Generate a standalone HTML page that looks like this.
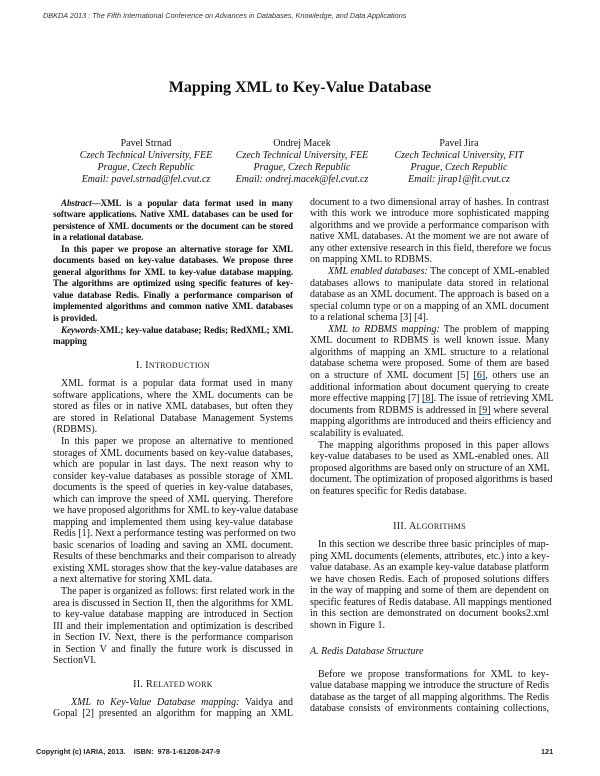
<!DOCTYPE html>
<html><head><meta charset="utf-8"><style>
body{margin:0;width:600px;height:776px;background:#fff;position:relative;overflow:hidden;font-family:"Liberation Serif",serif;color:#111}
.l{position:absolute;font-size:10px;line-height:12px;white-space:nowrap;text-align:justify;text-align-last:justify}
.L{left:53px;width:240px}.R{left:310px;width:239px}
.n{text-align-last:left}
.c{text-align:center;text-align-last:center}
.b{font-weight:bold;font-size:9.1px;letter-spacing:-0.1px}
i{font-style:italic}
.sc{font-size:10px;letter-spacing:.3px}
.a{position:absolute;font-size:10px;line-height:12px;text-align:center;width:180px}
u{text-decoration:underline;text-decoration-color:#39f}
</style></head><body>
<div style="position:absolute;left:43px;top:11px;font-family:'Liberation Sans',sans-serif;font-style:italic;font-size:7.3px;color:#333">DBKDA 2013 : The Fifth International Conference on Advances in Databases, Knowledge, and Data Applications</div>
<div style="position:absolute;left:0;width:600px;top:79px;text-align:center;font-weight:bold;font-size:16px">Mapping XML to Key-Value Database</div>
<div class="a" style="left:56px;top:138px">Pavel Strnad<br><i>Czech Technical University, FEE<br>Prague, Czech Republic<br>Email: pavel.strnad@fel.cvut.cz</i></div>
<div class="a" style="left:212px;top:138px">Ondrej Macek<br><i>Czech Technical University, FEE<br>Prague, Czech Republic<br>Email: ondrej.macek@fel.cvut.cz</i></div>
<div class="a" style="left:369px;top:138px">Pavel Jira<br><i>Czech Technical University, FIT<br>Prague, Czech Republic<br>Email: jirap1@fit.cvut.cz</i></div>

<div class="l L b" style="top:197px;padding-left:8px;width:232px"><i>Abstract</i>—XML is a popular data format used in many</div>
<div class="l L b" style="top:208px">software applications. Native XML databases can be used for</div>
<div class="l L b" style="top:220px">persistence of XML documents or the document can be stored</div>
<div class="l L b n" style="top:231px">in a relational database.</div>
<div class="l L b" style="top:243px;padding-left:8px;width:232px">In this paper we propose an alternative storage for XML</div>
<div class="l L b" style="top:254px">documents based on key-value databases. We propose three</div>
<div class="l L b" style="top:266px">general algorithms for XML to key-value database mapping.</div>
<div class="l L b" style="top:277px">The algorithms are optimized using specific features of key-</div>
<div class="l L b" style="top:289px">value database Redis. Finally a performance comparison of</div>
<div class="l L b" style="top:300px">implemented algorithms and common native XML databases</div>
<div class="l L b n" style="top:312px">is provided.</div>
<div class="l L b" style="top:324px;padding-left:8px;width:232px"><i>Keywords</i>-XML; key-value database; Redis; RedXML; XML</div>
<div class="l L b n" style="top:335px">mapping</div>
<div class="l L c sc" style="top:360px">I. I<span style="font-size:8px">NTRODUCTION</span></div>
<div class="l L" style="top:378px;padding-left:8px;width:232px">XML format is a popular data format used in many</div>
<div class="l L" style="top:390px">software applications, where the XML documents can be</div>
<div class="l L" style="top:401px">stored as files or in native XML databases, but often they</div>
<div class="l L" style="top:413px">are stored in Relational Database Management Systems</div>
<div class="l L n" style="top:424px">(RDBMS).</div>
<div class="l L" style="top:436px;padding-left:8px;width:232px">In this paper we propose an alternative to mentioned</div>
<div class="l L" style="top:448px">storages of XML documents based on key-value databases,</div>
<div class="l L" style="top:459px">which are popular in last days. The next reason why to</div>
<div class="l L" style="top:471px">consider key-value databases as possible storage of XML</div>
<div class="l L" style="top:482px">documents is the speed of queries in key-value databases,</div>
<div class="l L" style="top:494px">which can improve the speed of XML querying. Therefore</div>
<div class="l L" style="top:505px">we have proposed algorithms for XML to key-value database</div>
<div class="l L" style="top:517px">mapping and implemented them using key-value database</div>
<div class="l L" style="top:528px">Redis [1]. Next a performance testing was performed on two</div>
<div class="l L" style="top:540px">basic scenarios of loading and saving an XML document.</div>
<div class="l L" style="top:551px">Results of these benchmarks and their comparison to already</div>
<div class="l L" style="top:563px">existing XML storages show that the key-value databases are</div>
<div class="l L n" style="top:574px">a next alternative for storing XML data.</div>
<div class="l L" style="top:586px;padding-left:8px;width:232px">The paper is organized as follows: first related work in the</div>
<div class="l L" style="top:598px">area is discussed in Section II, then the algorithms for XML</div>
<div class="l L" style="top:609px">to key-value database mapping are introduced in Section</div>
<div class="l L" style="top:621px">III and their implementation and optimization is described</div>
<div class="l L" style="top:632px">in Section IV. Next, there is the performance comparison</div>
<div class="l L" style="top:644px">in Section V and finally the future work is discussed in</div>
<div class="l L n" style="top:655px">SectionVI.</div>
<div class="l L c sc" style="top:679px">II. R<span style="font-size:8px">ELATED WORK</span></div>
<div class="l L" style="top:697px;padding-left:18px;width:222px"><i>XML to Key-Value Database mapping:</i> Vaidya and</div>
<div class="l L" style="top:708px">Gopal [2] presented an algorithm for mapping an XML</div>

<div class="l R" style="top:197px">document to a two dimensional array of hashes. In contrast</div>
<div class="l R" style="top:208px">with this work we introduce more sophisticated mapping</div>
<div class="l R" style="top:220px">algorithms and we provide a performance comparison with</div>
<div class="l R" style="top:231px">native XML databases. At the moment we are not aware of</div>
<div class="l R" style="top:243px">any other extensive research in this field, therefore we focus</div>
<div class="l R n" style="top:254px">on mapping XML to RDBMS.</div>
<div class="l R" style="top:266px;padding-left:18px;width:221px"><i>XML enabled databases:</i> The concept of XML-enabled</div>
<div class="l R" style="top:278px">databases allows to manipulate data stored in relational</div>
<div class="l R" style="top:289px">database as an XML document. The approach is based on a</div>
<div class="l R" style="top:301px">special column type or on a mapping of an XML document</div>
<div class="l R n" style="top:312px">to a relational schema [3] [4].</div>
<div class="l R" style="top:324px;padding-left:18px;width:221px"><i>XML to RDBMS mapping:</i> The problem of mapping</div>
<div class="l R" style="top:335px">XML document to RDBMS is well known issue. Many</div>
<div class="l R" style="top:347px">algorithms of mapping an XML structure to a relational</div>
<div class="l R" style="top:358px">database schema were proposed. Some of them are based</div>
<div class="l R" style="top:370px">on a structure of XML document [5] <u>[6]</u>, others use an</div>
<div class="l R" style="top:382px">additional information about document querying to create</div>
<div class="l R" style="top:393px">more effective mapping [7] <u>[8]</u>. The issue of retrieving XML</div>
<div class="l R" style="top:405px">documents from RDBMS is addressed in <u>[9]</u> where several</div>
<div class="l R" style="top:416px">mapping algorithms are introduced and theirs efficiency and</div>
<div class="l R n" style="top:428px">scalability is evaluated.</div>
<div class="l R" style="top:440px;padding-left:8px;width:231px">The mapping algorithms proposed in this paper allows</div>
<div class="l R" style="top:451px">key-value databases to be used as XML-enabled ones. All</div>
<div class="l R" style="top:463px">proposed algorithms are based only on structure of an XML</div>
<div class="l R" style="top:474px">document. The optimization of proposed algorithms is based</div>
<div class="l R n" style="top:486px">on features specific for Redis database.</div>
<div class="l R c sc" style="top:521px">III. A<span style="font-size:8px">LGORITHMS</span></div>
<div class="l R" style="top:539px;padding-left:8px;width:231px">In this section we describe three basic principles of map-</div>
<div class="l R" style="top:551px">ping XML documents (elements, attributes, etc.) into a key-</div>
<div class="l R" style="top:562px">value database. As an example key-value database platform</div>
<div class="l R" style="top:574px">we have chosen Redis. Each of proposed solutions differs</div>
<div class="l R" style="top:585px">in the way of mapping and some of them are dependent on</div>
<div class="l R" style="top:597px">specific features of Redis database. All mappings mentioned</div>
<div class="l R" style="top:608px">in this section are demonstrated on document books2.xml</div>
<div class="l R n" style="top:620px">shown in Figure 1.</div>
<div class="l R n" style="top:646px"><i>A. Redis Database Structure</i></div>
<div class="l R" style="top:669px;padding-left:8px;width:231px">Before we propose transformations for XML to key-</div>
<div class="l R" style="top:680px">value database mapping we introduce the structure of Redis</div>
<div class="l R" style="top:692px">database as the target of all mapping algorithms. The Redis</div>
<div class="l R" style="top:703px">database consists of environments containing collections,</div>

<div style="position:absolute;left:36px;top:747px;font-family:'Liberation Sans',sans-serif;font-weight:bold;font-size:7.3px;color:#222">Copyright (c) IARIA, 2013. &nbsp;&nbsp; ISBN: &nbsp;978-1-61208-247-9</div>
<div style="position:absolute;left:541px;top:747px;font-family:'Liberation Sans',sans-serif;font-weight:bold;font-size:7.3px;color:#222">121</div>
</body></html>
